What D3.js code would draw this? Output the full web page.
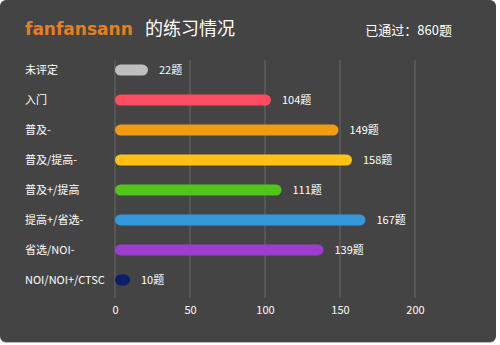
<!DOCTYPE html>
<html><head><meta charset="utf-8">
<script src="https://cdn.jsdelivr.net/npm/d3@7"></script>
<style>
html,body{margin:0;padding:0;background:#fff;}
svg{display:block;}
</style></head>
<body>
<svg id="c" width="500" height="345"></svg>
<script>
const categories = ["未评定","入门","普及-","普及/提高-","普及+/提高","提高+/省选-","省选/NOI-","NOI/NOI+/CTSC"];
const values = [22,104,149,158,111,167,139,10];
const colors = ["#bfbfbf","#fe4c61","#f39c11","#ffc116","#52c41a","#3498db","#9d3dcf","#0e1d69"];
const tickValues = [0,50,100,150,200];
const userName = "fanfansann";
const titleSuffix = "的练习情况";
const totalLabel = "已通过：860题";

const svg = d3.select("#c");
const font = "'Noto Sans CJK SC','Noto Sans',sans-serif";

svg.append("rect").attr("x",0).attr("y",1).attr("width",496).attr("height",342).attr("rx",6).attr("fill","#bbb");
svg.append("rect").attr("x",0).attr("y",0).attr("width",496).attr("height",342).attr("rx",6).attr("fill","#444");

const x = d3.scaleLinear().domain([0,200]).range([115,415]);
const y = d3.scaleBand().domain(categories).range([55,295]).paddingInner(0.633).paddingOuter(0.32);

// grid
svg.append("g").selectAll("line").data(tickValues).join("line")
  .attr("x1",d=>x(d)).attr("x2",d=>x(d)).attr("y1",60).attr("y2",298)
  .attr("stroke","#5c5c5c").attr("stroke-width",1.5);

// title
svg.append("text").attr("x",25).attr("y",35).attr("font-family","'DejaVu Sans',sans-serif")
  .attr("font-size",17).attr("font-weight","bold").attr("fill","#e67e22").text(userName);
svg.append("text").attr("x",145).attr("y",35).attr("font-family",font)
  .attr("font-size",18).attr("fill","#fff").text(titleSuffix);
svg.append("text").attr("x",452).attr("y",35).attr("text-anchor","end").attr("fill","#fff")
  .attr("font-family",font).attr("font-size",13).text(totalLabel);

// bars
const bh = y.bandwidth();
svg.append("g").selectAll("rect").data(values).join("rect")
  .attr("x",x(0)).attr("y",(d,i)=>y(categories[i]))
  .attr("width",d=>x(d)-x(0)).attr("height",bh).attr("rx",bh/2)
  .attr("fill",(d,i)=>colors[i]);

// category labels
svg.append("g").selectAll("text").data(categories).join("text")
  .attr("x",25).attr("y",d=>y(d)+bh/2).attr("dy","0.35em")
  .attr("fill","#fff").attr("font-family",font).attr("font-size",11).text(d=>d);

// value labels
svg.append("g").selectAll("text").data(values).join("text")
  .attr("x",d=>x(d)+11).attr("y",(d,i)=>y(categories[i])+bh/2).attr("dy","0.35em")
  .attr("fill","#fff").attr("font-family",font).attr("font-size",11).text(d=>d+"题");

// axis
const ax = svg.append("g").attr("transform","translate(0,298)")
  .call(d3.axisBottom(x).tickValues(tickValues).tickSize(0).tickPadding(8));
ax.select(".domain").remove();
ax.selectAll("text").attr("fill","#fff").attr("font-family",font).attr("font-size",11);
</script>
</body></html>
